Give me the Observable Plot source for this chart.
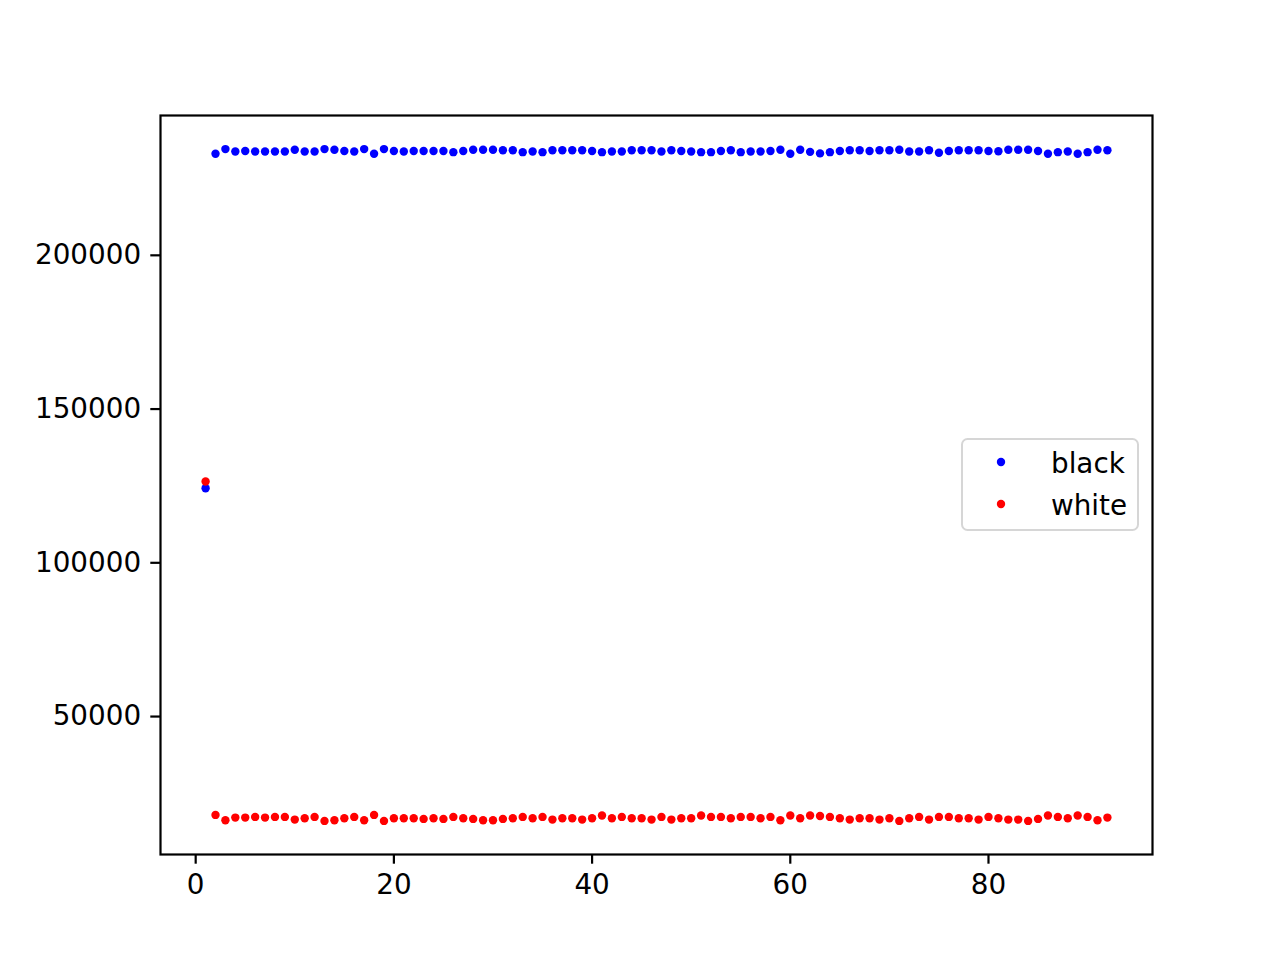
<!DOCTYPE html>
<html>
<head>
<meta charset="utf-8">
<script src="https://cdn.jsdelivr.net/npm/d3@7"></script>
<script src="https://cdn.jsdelivr.net/npm/@observablehq/plot@0.6"></script>
<style>
  html, body { margin: 0; padding: 0; background: white; }
  #chart { width: 1280px; height: 960px; }
</style>
</head>
<body>
<div id="chart"></div>
<script>
const seriesNames = ["black", "white"];
const seriesColors = ["#0000ff", "#ff0000"];

const blackValues = [
  123600, 232400, 233900, 233100, 233300, 233100, 233100, 233100, 233100, 233700,
  233100, 233100, 233900, 233700, 233300, 233100, 233900, 232400, 233900, 233300,
  233100, 233300, 233300, 233300, 233300, 232900, 233300, 233700, 233700, 233700,
  233500, 233500, 232900, 233100, 232900, 233500, 233500, 233500, 233500, 233300,
  232900, 233100, 233100, 233500, 233500, 233500, 233100, 233500, 233300, 233100,
  232900, 232900, 233300, 233500, 232900, 233100, 233100, 233300, 233700, 232400,
  233700, 233000, 232500, 232900, 233300, 233500, 233500, 233300, 233500, 233500,
  233700, 233100, 233100, 233500, 232700, 233300, 233500, 233500, 233500, 233300,
  233200, 233700, 233700, 233700, 233300, 232400, 232900, 233100, 232400, 232900,
  233700, 233500
];

const whiteValues = [
  125800, 17360, 15630, 16490, 16490, 16710, 16490, 16710, 16710, 15840,
  16280, 16710, 15410, 15630, 16280, 16710, 15630, 17360, 15410, 16280,
  16280, 16280, 16060, 16280, 16060, 16710, 16280, 16060, 15630, 15630,
  16060, 16280, 16710, 16280, 16710, 15840, 16280, 16280, 15840, 16280,
  17145, 16280, 16710, 16280, 16280, 15840, 16710, 15840, 16280, 16280,
  17145, 16710, 16710, 16280, 16710, 16710, 16280, 16710, 15630, 17145,
  16280, 17145, 17000, 16710, 16280, 15840, 16280, 16280, 15840, 16280,
  15410, 16280, 16710, 15840, 16710, 16710, 16280, 16280, 15840, 16710,
  16280, 15840, 15840, 15410, 16060, 17145, 16710, 16280, 17145, 16710,
  15630, 16490
];

const xTicks = [0, 20, 40, 60, 80];
const yTicks = [50000, 100000, 150000, 200000];

const data = [];
blackValues.forEach((v, i) => data.push({x: i + 1, y: v, series: seriesNames[0]}));
whiteValues.forEach((v, i) => data.push({x: i + 1, y: v, series: seriesNames[1]}));

// matplotlib-like 5% margins
const xExt = d3.extent(data, d => d.x);
const yExt = d3.extent(data, d => d.y);
const xPad = (xExt[1] - xExt[0]) * 0.05;
const yPad = (yExt[1] - yExt[0]) * 0.05;

const FONT = "DejaVu Sans";
const FS = 27.8;

const chart = Plot.plot({
  width: 1280,
  height: 960,
  marginLeft: 160,
  marginRight: 128,
  marginTop: 115,
  marginBottom: 106,
  style: {background: "white", fontFamily: FONT, fontSize: FS + "px", color: "black"},
  x: {domain: [xExt[0] - xPad, xExt[1] + xPad]},
  y: {domain: [yExt[0] - yPad, yExt[1] + yPad]},
  color: {type: "ordinal", domain: seriesNames, range: seriesColors},
  marks: [
    Plot.dot(data, {x: "x", y: "y", fill: {value: "series", scale: "color"}, r: 4.2, stroke: null}),
    Plot.frame({stroke: "black", strokeWidth: 2.2}),
    Plot.axisX({ticks: xTicks, tickSize: 9.7, tickPadding: 9.7, fontSize: FS, label: null, strokeWidth: 2.2, tickFormat: d => String(d)}),
    Plot.axisY({ticks: yTicks, tickSize: 9.7, tickPadding: 9.7, fontSize: FS, label: null, strokeWidth: 2.2, dy: 2, tickFormat: d => String(d)})
  ]
});

document.getElementById("chart").appendChild(chart);

// legend (matplotlib style, inside the plot area, center right)
const svg = d3.select(chart);
const lg = svg.append("g").attr("font-family", FONT).attr("font-size", FS);
lg.append("rect")
  .attr("x", 962).attr("y", 439).attr("width", 176).attr("height", 91)
  .attr("rx", 5.5).attr("ry", 5.5)
  .attr("fill", "white").attr("fill-opacity", 0.8)
  .attr("stroke", "#d6d6d6").attr("stroke-width", 2);
seriesNames.forEach((name, i) => {
  const cy = 462 + i * 42;
  lg.append("circle").attr("cx", 1001).attr("cy", cy).attr("r", 4.2).attr("fill", seriesColors[i]);
  lg.append("text").attr("x", 1051).attr("y", cy + 10.5).attr("text-anchor", "start")
    .attr("fill", "black").text(name);
});
</script>
</body>
</html>
